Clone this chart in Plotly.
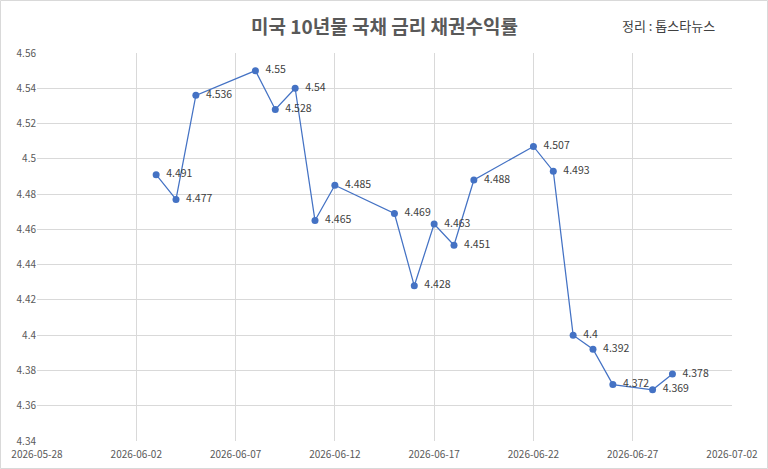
import plotly.graph_objects as go

dates = ["2026-06-03", "2026-06-04", "2026-06-05", "2026-06-08", "2026-06-09",
         "2026-06-10", "2026-06-11", "2026-06-12", "2026-06-15", "2026-06-16",
         "2026-06-17", "2026-06-18", "2026-06-19", "2026-06-22", "2026-06-23",
         "2026-06-24", "2026-06-25", "2026-06-26", "2026-06-28", "2026-06-29"]
yields = [4.491, 4.477, 4.536, 4.55, 4.528,
          4.54, 4.465, 4.485, 4.469, 4.428,
          4.463, 4.451, 4.488, 4.507, 4.493,
          4.4, 4.392, 4.372, 4.369, 4.378]
labels = ["4.491", "4.477", "4.536", "4.55", "4.528",
          "4.54", "4.465", "4.485", "4.469", "4.428",
          "4.463", "4.451", "4.488", "4.507", "4.493",
          "4.4", "4.392", "4.372", "4.369", "4.378"]
ytick_vals = [4.34, 4.36, 4.38, 4.40, 4.42, 4.44, 4.46, 4.48, 4.50, 4.52, 4.54, 4.56]
ytick_text = ["4.34", "4.36", "4.38", "4.4", "4.42", "4.44", "4.46", "4.48", "4.5", "4.52", "4.54", "4.56"]
x_start = "2026-05-28"
x_end = "2026-07-02"

FONT = "Noto Sans CJK KR, Malgun Gothic, sans-serif"
BLUE = "#4472C4"

fig = go.Figure()
fig.add_trace(go.Scatter(
    x=dates, y=yields, mode="lines+markers+text",
    text=["\u00a0\u00a0" + t for t in labels], textposition="middle right",
    textfont=dict(family=FONT, size=10.5, color="#404040"),
    line=dict(color=BLUE, width=1.25),
    marker=dict(color=BLUE, size=7),
    cliponaxis=False, showlegend=False,
))

W, H = 768, 469
ml, mr, mt, mb = 37, 36, 53, 28
pw, ph = W - ml - mr, H - mt - mb

fig.update_layout(
    width=W, height=H,
    margin=dict(l=ml, r=mr, t=mt, b=mb, autoexpand=False),
    paper_bgcolor="white", plot_bgcolor="white",
    font=dict(family=FONT, size=10, color="#595959"),
    xaxis=dict(
        type="date", range=[x_start, x_end],
        tick0=x_start, dtick=5 * 86400000, tickformat="%Y-%m-%d",
        showgrid=True, gridcolor="#d9d9d9", gridwidth=1,
        zeroline=False, showline=False, ticks="",
        ticklabelstandoff=6, automargin=False,
        tickfont=dict(family=FONT, size=10, color="#595959"),
    ),
    yaxis=dict(
        range=[4.34, 4.56], tickvals=ytick_vals, ticktext=ytick_text,
        showgrid=True, gridcolor="#d9d9d9", gridwidth=1,
        zeroline=False, showline=False, ticks="", automargin=False,
        tickfont=dict(family=FONT, size=10, color="#595959"),
    ),
    annotations=[
        dict(text="<b>미국 10년물 국채 금리 채권수익률</b>", x=(384 - ml) / pw, y=1 + (mt - 25) / ph,
             xref="paper", yref="paper", showarrow=False, xanchor="center", yanchor="middle",
             font=dict(family=FONT, size=19, color="#595959")),
        dict(text="정리 : 톱스타뉴스", x=(717 - ml) / pw, y=1 + (mt - 25) / ph,
             xref="paper", yref="paper", showarrow=False, xanchor="right", yanchor="middle",
             font=dict(family=FONT, size=13, color="#404040")),
    ],
    shapes=[
        dict(type="rect", xref="paper", yref="paper",
             x0=(0.5 - ml) / pw, x1=(W - 0.5 - ml) / pw,
             y0=-(mb - 0.5) / ph, y1=1 + (mt - 0.5) / ph,
             line=dict(color="#d9d9d9", width=1), fillcolor="rgba(0,0,0,0)", layer="below"),
    ],
)

fig.write_html("out.html")
